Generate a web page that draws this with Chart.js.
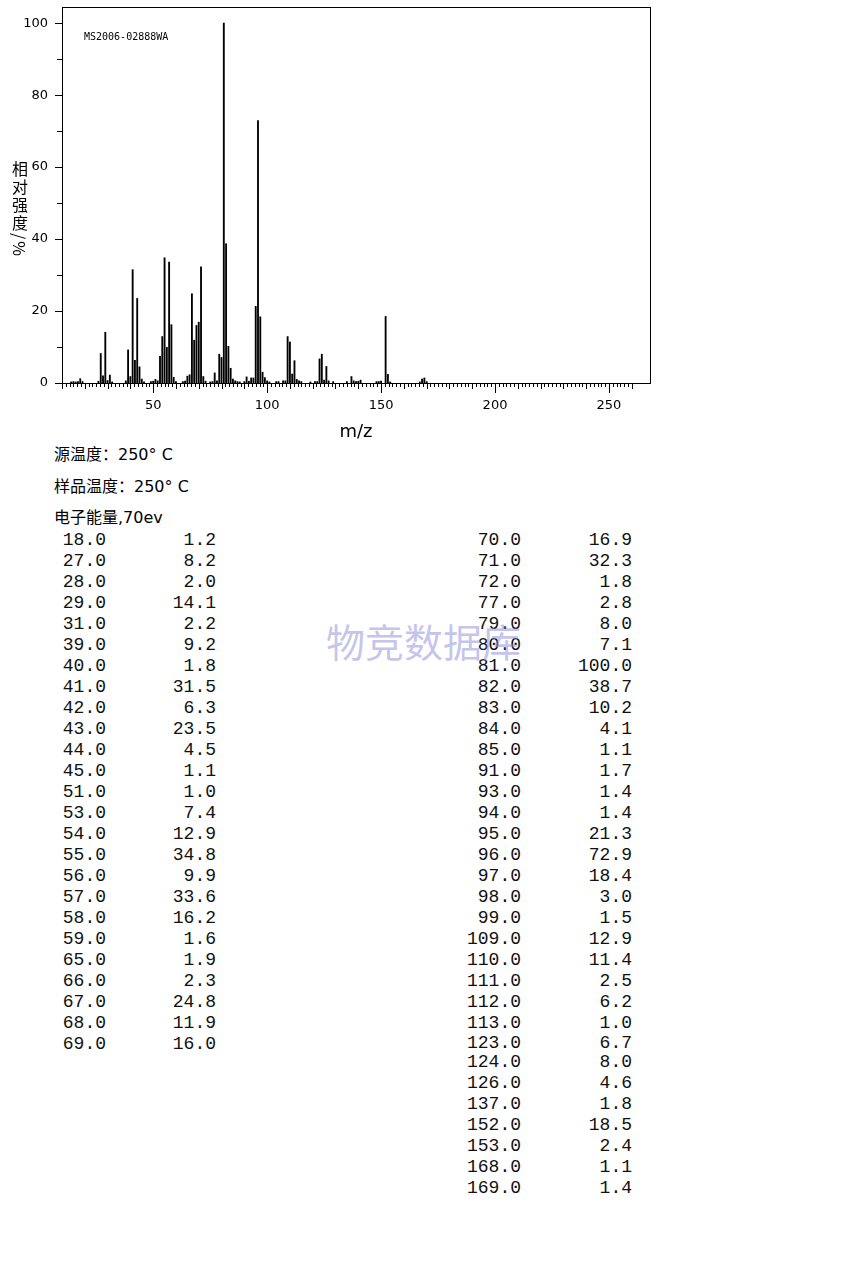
<!DOCTYPE html>
<html>
<head>
<meta charset="utf-8">
<script src="https://cdn.jsdelivr.net/npm/chart.js@4.4.0/dist/chart.umd.min.js"></script>
<style>
  body { margin: 0; background: #fff; width: 850px; height: 1276px; position: relative; overflow: hidden; }
  #wrap { position: absolute; left: 0; top: 0; width: 850px; height: 445px; }
  .abs { position: absolute; white-space: pre; }
  #ylab { left: 8px; top: 161px; writing-mode: vertical-rl; font: 16px "Noto Sans CJK SC", sans-serif; letter-spacing: 2px; color: #000; }
  #code { left: 84px; top: 31px; font: 10px "DejaVu Sans Mono", monospace; color: #000; }
  .info { left: 54px; font: 16px "DejaVu Sans", "Noto Sans CJK SC", sans-serif; color: #000; line-height: 20px; }
  .cell { font: 18px "Liberation Mono", "Courier New", monospace; color: #111; line-height: 21px; text-align: right; }
  #mark { left: 326px; top: 612px; font: 39px "Noto Sans CJK SC", sans-serif; color: rgba(140, 140, 215, 0.5); z-index: 5; }
</style>
</head>
<body>
<div id="wrap"><canvas id="ms" width="850" height="445"></canvas></div>
<div class="abs" id="ylab">相对强度/%</div>
<div class="abs" id="code">MS2006-02888WA</div>
<div class="abs info" style="top:445px">源温度：250° C</div>
<div class="abs info" style="top:477px">样品温度：250° C</div>
<div class="abs info" style="top:508px">电子能量,70ev</div>
<div id="table"></div>
<div class="abs" id="mark">物竞数据库</div>
<script>
// listed peaks (table + chart)
const mzMain = [18, 27, 28, 29, 31, 39, 40, 41, 42, 43, 44, 45, 51, 53, 54, 55, 56, 57, 58, 59, 65, 66, 67, 68, 69,
  70, 71, 72, 77, 79, 80, 81, 82, 83, 84, 85, 91, 93, 94, 95, 96, 97, 98, 99, 109, 110, 111, 112, 113,
  123, 124, 126, 137, 152, 153, 168, 169];
const intMain = [1.2, 8.2, 2.0, 14.1, 2.2, 9.2, 1.8, 31.5, 6.3, 23.5, 4.5, 1.1, 1.0, 7.4, 12.9, 34.8, 9.9, 33.6, 16.2, 1.6, 1.9, 2.3, 24.8, 11.9, 16.0,
  16.9, 32.3, 1.8, 2.8, 8.0, 7.1, 100.0, 38.7, 10.2, 4.1, 1.1, 1.7, 1.4, 1.4, 21.3, 72.9, 18.4, 3.0, 1.5, 12.9, 11.4, 2.5, 6.2, 1.0,
  6.7, 8.0, 4.6, 1.8, 18.5, 2.4, 1.1, 1.4];

// small peaks only seen on the plot (< 1 %)
const mzMinor = [14, 15, 16, 17, 19, 26, 30, 32, 38, 46, 49, 50, 52, 60, 63, 64, 73, 75, 76, 78, 86, 87, 88, 90, 92,
  100, 101, 104, 105, 107, 108, 114, 115, 119, 121, 122, 125, 127, 129, 135, 138, 139, 140, 141, 148, 149, 150, 154, 167, 170];
const intMinor = [0.3, 0.4, 0.3, 0.4, 0.4, 0.5, 0.7, 0.3, 0.6, 0.3, 0.4, 0.5, 0.6, 0.4, 0.4, 0.5, 0.5, 0.3, 0.4, 0.6, 0.6, 0.4, 0.3, 0.4, 0.5,
  0.6, 0.3, 0.4, 0.4, 0.6, 0.6, 0.6, 0.4, 0.3, 0.4, 0.4, 0.8, 0.6, 0.4, 0.4, 0.6, 0.4, 0.5, 0.8, 0.4, 0.4, 0.5, 0.3, 0.3, 0.4];

const xTickLabels = [50, 100, 150, 200, 250];
const yTickLabels = [0, 20, 40, 60, 80, 100];

const points = mzMain.map((m, i) => ({ x: m, y: intMain[i] }))
  .concat(mzMinor.map((m, i) => ({ x: m, y: intMinor[i] })));

// frame box + tick marks
const frame = {
  id: 'frame',
  afterDraw(chart) {
    const { ctx, chartArea: a, scales: { x, y } } = chart;
    ctx.save();
    ctx.strokeStyle = '#000';
    ctx.lineWidth = 1;
    ctx.strokeRect(a.left + 0.5, a.top + 0.5, a.right - a.left, a.bottom - a.top);
    ctx.beginPath();
    for (let i = 0; i <= 150; i++) {
      const v = 10 + i * 10 / 6;
      const len = (i - 24) % 30 === 0 ? 10 : i % 6 === 0 ? 6 : 4;
      const px = Math.round(x.getPixelForValue(v)) + 0.5;
      ctx.moveTo(px, a.bottom);
      ctx.lineTo(px, a.bottom + len);
    }
    for (let v = 0; v <= 100; v += 10) {
      const len = v % 20 === 0 ? 7 : 5;
      const py = Math.round(y.getPixelForValue(v)) + 0.5;
      ctx.moveTo(a.left, py);
      ctx.lineTo(a.left - len, py);
    }
    ctx.stroke();
    ctx.restore();
  }
};

const noPad = s => { s.paddingTop = 0; s.paddingBottom = 0; s.paddingLeft = 0; s.paddingRight = 0; };

new Chart(document.getElementById('ms'), {
  type: 'bar',
  data: {
    datasets: [{
      data: points,
      backgroundColor: '#000',
      barThickness: 1.2,
      borderWidth: 0
    }]
  },
  options: {
    responsive: false,
    animation: false,
    layout: { padding: { left: 0, top: 7, right: 200, bottom: 0 } },
    plugins: { legend: { display: false }, tooltip: { enabled: false } },
    scales: {
      x: {
        type: 'linear',
        min: 10,
        max: 268,
        offset: false,
        grid: { display: false, drawTicks: false, offset: false },
        border: { display: false },
        afterFit: s => { s.height = 62; noPad(s); },
        afterBuildTicks: s => { s.ticks = xTickLabels.map(v => ({ value: v })); },
        ticks: { padding: 15, color: '#000', maxRotation: 0, autoSkip: false, font: { family: 'DejaVu Sans', size: 13 } },
        title: { display: true, text: 'm/z', color: '#000', padding: { top: 0, bottom: 2 }, font: { family: 'DejaVu Sans', size: 18 } }
      },
      y: {
        min: 0,
        max: 104.5,
        grid: { display: false, drawTicks: false },
        border: { display: false },
        afterFit: s => { s.width = 62; noPad(s); },
        afterBuildTicks: s => { s.ticks = yTickLabels.map(v => ({ value: v })); },
        ticks: { padding: 14, color: '#000', autoSkip: false, font: { family: 'DejaVu Sans', size: 13 } }
      }
    }
  },
  plugins: [frame]
});

// peak table
const table = document.getElementById('table');
function cell(text, right, top) {
  const d = document.createElement('div');
  d.className = 'abs cell';
  d.style.left = '0px';
  d.style.width = right + 'px';
  d.style.top = top + 'px';
  d.textContent = text;
  table.appendChild(d);
}
mzMain.forEach((m, i) => {
  let top, r1, r2;
  if (i < 25) {
    top = 530 + 21 * i; r1 = 106; r2 = 216;
  } else {
    const j = i - 25;
    top = j < 24 ? 530 + 21 * j : j === 24 ? 1033 : 1052 + 21 * (j - 25);
    r1 = 521; r2 = 632;
  }
  cell(m.toFixed(1), r1, top);
  cell(intMain[i].toFixed(1), r2, top);
});
</script>
</body>
</html>
